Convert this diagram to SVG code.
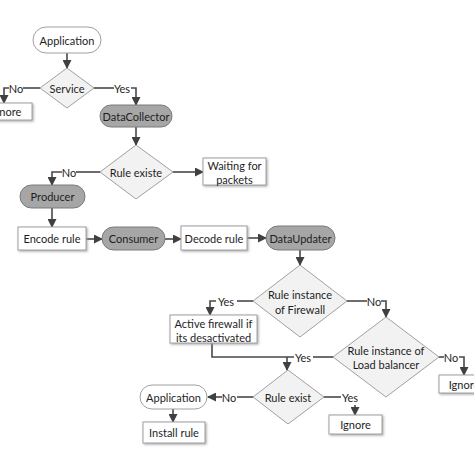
<svg xmlns="http://www.w3.org/2000/svg" width="474" height="474" viewBox="0 0 474 474">
<defs>
<marker id="ah" markerWidth="9" markerHeight="9" refX="8" refY="4.5" orient="auto" markerUnits="userSpaceOnUse">
<path d="M0,0 L9,4.5 L0,9 Z" fill="#404040"/>
</marker>
<filter id="sh" x="-10%" y="-10%" width="130%" height="140%">
<feDropShadow dx="1.2" dy="1.2" stdDeviation="0.8" flood-color="#9a9a9a" flood-opacity="0.8"/>
</filter>
</defs>
<style>
text{font-family:Lato,"Open Sans","Liberation Sans",sans-serif;font-size:11px;fill:#1e1e1e;text-anchor:middle;dominant-baseline:central}
.pw{fill:#ffffff;stroke:#a0a0a0;stroke-width:1}
.pg{fill:#a6a6a6;stroke:#7a7a7a;stroke-width:1}
.bx{fill:#ffffff;stroke:#a0a0a0;stroke-width:1;filter:url(#sh)}
.dm{fill:#f2f2f2;stroke:#a0a0a0;stroke-width:1}
.cn path{fill:none;stroke:#484848;stroke-width:1.6}
.ar{marker-end:url(#ah)}
</style>
<rect width="474" height="474" fill="#ffffff"/>
<g id="connectors" class="cn">
<path class="ar" d="M67,53 V68"/>
<path d="M40,88 H23"/>
<path class="ar" d="M9,88 H4 V103"/>
<path d="M94,88 H114"/>
<path class="ar" d="M131,88 H136 V105"/>
<path class="ar" d="M136,127 V145"/>
<path class="ar" d="M173,172 H203"/>
<path d="M100,172 H76"/>
<path class="ar" d="M62,172 H52 V185"/>
<path class="ar" d="M52,208 V227"/>
<path class="ar" d="M86,239 H102"/>
<path class="ar" d="M165,239 H181"/>
<path class="ar" d="M247,238 H266"/>
<path class="ar" d="M300,250 V265"/>
<path d="M253,301 H237"/>
<path class="ar" d="M216,301 H210 V315"/>
<path d="M347,301 H367"/>
<path class="ar" d="M381,301 H386 V317"/>
<path d="M212,343 V357 H294"/>
<path d="M333,357 H313"/>
<path class="ar" d="M287,357 V370"/>
<path d="M439,357 H444"/>
<path class="ar" d="M459,357 H464 V375"/>
<path d="M253,397 H237"/>
<path class="ar" d="M222,397 H208"/>
<path class="ar" d="M173,409 V422"/>
<path d="M324,397 H341"/>
<path class="ar" d="M355,405 V415"/>
<text x="16" y="88">No</text>
<text x="122" y="88">Yes</text>
<text x="69" y="172">No</text>
<text x="226" y="301">Yes</text>
<text x="374" y="301">No</text>
<text x="303" y="357">Yes</text>
<text x="451" y="357">No</text>
<text x="229" y="397">No</text>
<text x="350" y="397">Yes</text>
</g>
<g id="app1"><rect class="pw" x="33" y="27" width="68" height="26" rx="13"/><text x="67" y="40">Application</text></g>
<g id="service"><polygon class="dm" points="67,68 94,88 67,108 40,88"/><text x="67" y="88">Service</text></g>
<g id="ignore1"><rect class="bx" x="-20" y="103" width="52" height="17"/><text x="6" y="111.5">Ignore</text></g>
<g id="datacollector"><rect class="pg" x="100" y="105" width="72" height="22" rx="11"/><text x="136" y="116">DataCollector</text></g>
<g id="ruleexiste"><polygon class="dm" points="136,145 173,172 136,199 100,172"/><text x="136" y="172">Rule existe</text></g>
<g id="waiting"><rect class="bx" x="203" y="158" width="63" height="27"/><text x="234.5" y="165">Waiting for</text><text x="234.5" y="179">packets</text></g>
<g id="producer"><rect class="pg" x="20" y="185" width="65" height="23" rx="11.5"/><text x="52.5" y="196.5">Producer</text></g>
<g id="encode"><rect class="bx" x="18" y="227" width="68" height="23"/><text x="52" y="238.5">Encode rule</text></g>
<g id="consumer"><rect class="pg" x="102" y="227" width="63" height="23" rx="11.5"/><text x="133.5" y="238.5">Consumer</text></g>
<g id="decode"><rect class="bx" x="181" y="226" width="66" height="24"/><text x="214" y="238">Decode rule</text></g>
<g id="dataupdater"><rect class="pg" x="266" y="226" width="69" height="24" rx="12"/><text x="300.5" y="238">DataUpdater</text></g>
<g id="firewall"><polygon class="dm" points="300,265 347,301 300,337 253,301"/><text x="300" y="294">Rule instance</text><text x="300" y="309">of Firewall</text></g>
<g id="active"><rect class="bx" x="170" y="315" width="87" height="28"/><text x="213.5" y="323">Active firewall if</text><text x="213.5" y="337">its desactivated</text></g>
<g id="loadbalancer"><polygon class="dm" points="386,317 439,357 386,397 333,357"/><text x="386" y="350">Rule instance of</text><text x="386" y="364">Load balancer</text></g>
<g id="ignore2"><rect class="bx" x="439" y="375" width="50" height="18"/><text x="464" y="384">Ignore</text></g>
<g id="ruleexist"><polygon class="dm" points="288,370 324,397 288,424 253,397"/><text x="288" y="397">Rule exist</text></g>
<g id="app2"><rect class="pw" x="140" y="385" width="67" height="24" rx="12"/><text x="173.5" y="397">Application</text></g>
<g id="install"><rect class="bx" x="143" y="422" width="62" height="21"/><text x="174" y="432.5">Install rule</text></g>
<g id="ignore3"><rect class="bx" x="329" y="415" width="53" height="19"/><text x="355.5" y="424.5">Ignore</text></g>
</svg>
